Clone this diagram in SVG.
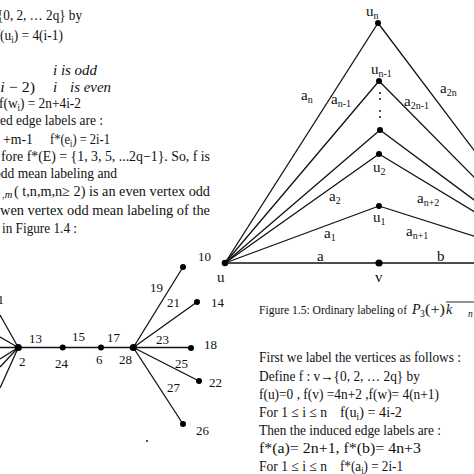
<svg xmlns="http://www.w3.org/2000/svg" width="474" height="474" viewBox="0 0 474 474">
<style>
text{font-family:"Liberation Serif","Times New Roman",serif;fill:#111}
.b{font-size:14.5px}
.r{font-size:14.5px}
.it{font-style:italic}
.g{font-size:13px}
.t{font-size:15px}
.s{font-size:10px}
.ss{font-size:9.5px}
.e{stroke:#111;stroke-width:1.3;fill:none}
.nd{fill:#000}
</style>
<rect width="474" height="474" fill="#fff"/>

<g id="left-text">
<text class="b" x="-3.5" y="20">{</text>
<text class="b" x="3.3" y="20" textLength="78.7" lengthAdjust="spacingAndGlyphs">0, 2, … 2q} by</text>
<text class="b" x="-4.5" y="40" textLength="67.5" lengthAdjust="spacingAndGlyphs">f(u<tspan class="ss" dy="3">i</tspan><tspan dy="-3">) = 4(i-1)</tspan></text>
<text class="it" font-size="15" x="53" y="75" textLength="44" lengthAdjust="spacingAndGlyphs">i is odd</text>
<text font-size="15" x="-5" y="92" textLength="40" lengthAdjust="spacingAndGlyphs">(<tspan class="it">i</tspan> − 2)</text>
<text class="it" font-size="15" x="53" y="92">i</text>
<text class="it" font-size="15" x="70" y="92" textLength="41" lengthAdjust="spacingAndGlyphs">is even</text>
<text class="b" x="-1" y="108" textLength="82" lengthAdjust="spacingAndGlyphs">f(w<tspan class="ss" dy="3">i</tspan><tspan dy="-3">) = 2n+4i-2</tspan></text>
<text class="b" x="0" y="125" textLength="103" lengthAdjust="spacingAndGlyphs">ed edge labels are :</text>
<text class="b" x="3" y="144" textLength="30" lengthAdjust="spacingAndGlyphs">+m-1</text>
<text class="b" x="50" y="144" textLength="60" lengthAdjust="spacingAndGlyphs">f*(e<tspan class="ss" dy="3">i</tspan><tspan dy="-3">) = 2i-1</tspan></text>
<text class="b" x="1" y="161" textLength="209" lengthAdjust="spacingAndGlyphs">fore f*(E) = {1, 3, 5, ...2q−1}. So, f is</text>
<text class="b" x="-6" y="178" textLength="123" lengthAdjust="spacingAndGlyphs">odd mean labeling and</text>
<text class="it" font-size="10.5" x="2" y="198">,m</text>
<text class="b" x="14" y="196" textLength="196" lengthAdjust="spacingAndGlyphs">( t,n,m,n≥ 2) is an even vertex odd</text>
<text class="b" x="0" y="215" textLength="210" lengthAdjust="spacingAndGlyphs">wen vertex odd mean labeling of the</text>
<text class="b" x="2" y="233" textLength="75" lengthAdjust="spacingAndGlyphs">in Figure 1.4 :</text>
</g>

<g id="connectors-left">
<line class="e" x1="0" y1="347.5" x2="191" y2="347.5"/>
<line class="e" x1="0" y1="315" x2="18.3" y2="347.5"/>
<line class="e" x1="0" y1="337" x2="18.3" y2="347.5"/>
<line class="e" x1="0" y1="359" x2="18.3" y2="347.5"/>
<line class="e" x1="0" y1="367" x2="18.3" y2="347.5"/>
<line class="e" x1="0" y1="388" x2="18.3" y2="347.5"/>
<line class="e" x1="133.3" y1="347.5" x2="183" y2="267"/>
<line class="e" x1="133.3" y1="347.5" x2="197" y2="302"/>
<line class="e" x1="133.3" y1="347.5" x2="199" y2="381"/>
<line class="e" x1="133.3" y1="347.5" x2="183" y2="424"/>
</g>

<g id="edge-labels-left" class="g">
<text x="4" y="304" text-anchor="end">11</text>
<text x="29" y="343">13</text>
<text x="72" y="341">15</text>
<text x="107" y="342">17</text>
<text x="150" y="292">19</text>
<text x="167" y="307">21</text>
<text x="156" y="344">23</text>
<text x="175" y="368">25</text>
<text x="167" y="392">27</text>
</g>

<g id="n2"><circle class="nd" cx="18.3" cy="347.5" r="3.6"/><text class="g" x="19" y="366">2</text></g>
<g id="n24"><circle class="nd" cx="62.7" cy="347.5" r="3"/><text class="g" x="55" y="368">24</text></g>
<g id="n6"><circle class="nd" cx="101" cy="347.5" r="3"/><text class="g" x="96" y="364">6</text></g>
<g id="n28"><circle class="nd" cx="133.3" cy="347.5" r="3.6"/><text class="g" x="119" y="364">28</text></g>
<g id="n10"><circle class="nd" cx="183" cy="267" r="3"/><text class="g" x="198" y="261">10</text></g>
<g id="n14"><circle class="nd" cx="197" cy="302" r="3"/><text class="g" x="211" y="307">14</text></g>
<g id="n18"><circle class="nd" cx="191" cy="348" r="3"/><text class="g" x="204" y="349">18</text></g>
<g id="n22"><circle class="nd" cx="199" cy="381" r="3"/><text class="g" x="209" y="387">22</text></g>
<g id="n26"><circle class="nd" cx="183" cy="424" r="3"/><text class="g" x="196" y="435">26</text></g>
<circle class="nd" cx="147" cy="441" r="0.9"/>

<g id="connectors-right">
<line class="e" x1="225" y1="263" x2="474" y2="263"/>
<line class="e" x1="225" y1="263" x2="379" y2="206"/>
<line class="e" x1="225" y1="263" x2="379" y2="154"/>
<line class="e" x1="225" y1="263" x2="380" y2="130"/>
<line class="e" x1="225" y1="263" x2="379" y2="81"/>
<line class="e" x1="225" y1="263" x2="378" y2="23"/>
<line class="e" x1="379" y1="206" x2="559" y2="263"/>
<line class="e" x1="379" y1="154" x2="559" y2="263"/>
<line class="e" x1="380" y1="130" x2="559" y2="263"/>
<line class="e" x1="379" y1="81" x2="559" y2="263"/>
<line class="e" x1="378" y1="23" x2="559" y2="263"/>
</g>
<g id="dots" class="nd">
<circle cx="380" cy="93" r="0.9"/><circle cx="380" cy="99" r="0.9"/>
<circle cx="380" cy="111" r="0.9"/><circle cx="380" cy="117" r="0.9"/>
</g>

<g id="edge-labels-right" class="t">
<text x="301" y="100">a<tspan class="s" dy="3">n</tspan></text>
<text x="331" y="104">a<tspan class="s" dy="3">n-1</tspan></text>
<text x="404" y="106">a<tspan class="s" dy="3">2n-1</tspan></text>
<text x="440" y="93">a<tspan class="s" dy="3">2n</tspan></text>
<text x="329" y="201">a<tspan class="s" dy="3">2</tspan></text>
<text x="324" y="238">a<tspan class="s" dy="3">1</tspan></text>
<text x="417" y="203">a<tspan class="s" dy="3">n+2</tspan></text>
<text x="406" y="236">a<tspan class="s" dy="3">n+1</tspan></text>
<text x="317" y="261">a</text>
<text x="437" y="261">b</text>
</g>

<g id="u"><circle class="nd" cx="225" cy="263" r="3.3"/><text class="t" x="217" y="282">u</text></g>
<g id="v"><circle class="nd" cx="379" cy="263" r="3.6"/><text class="t" x="375" y="282">v</text></g>
<g id="u1"><circle class="nd" cx="379" cy="206" r="3"/><text class="t" x="373" y="222">u<tspan class="s" dy="3">1</tspan></text></g>
<g id="u2"><circle class="nd" cx="379" cy="154" r="3"/><text class="t" x="373" y="172">u<tspan class="s" dy="3">2</tspan></text></g>
<g id="u3"><circle class="nd" cx="380" cy="130" r="3"/></g>
<g id="un1"><circle class="nd" cx="379" cy="81" r="3"/><text class="t" x="371" y="74">u<tspan class="s" dy="3">n-1</tspan></text></g>
<g id="un"><circle class="nd" cx="378" cy="23" r="3"/><text class="t" x="366" y="16">u<tspan class="s" dy="3">n</tspan></text></g>

<g id="right-text">
<text font-size="13.5" x="259" y="314" textLength="148" lengthAdjust="spacingAndGlyphs">Figure 1.5: Ordinary labeling of</text>
<text font-size="14" class="it" x="412" y="314">P</text>
<text font-size="9.5" x="420" y="317">3</text>
<text font-size="14" x="425" y="314" textLength="20" lengthAdjust="spacingAndGlyphs">(+)</text>
<text font-size="14" class="it" x="446" y="314">k</text>
<line x1="446" y1="302" x2="474" y2="302" stroke="#111" stroke-width="0.9"/>
<text font-size="9.5" class="it" x="468" y="317">n</text>
<text class="r" x="259" y="362" textLength="202" lengthAdjust="spacingAndGlyphs">First we label the vertices as follows :</text>
<text class="r" x="259" y="381" textLength="161" lengthAdjust="spacingAndGlyphs">Define f : v→{0, 2, … 2q} by</text>
<text class="r" x="259" y="399" textLength="180" lengthAdjust="spacingAndGlyphs">f(u)=0 , f(v) =4n+2 ,f(w)= 4(n+1)</text>
<text class="r" x="259" y="417" textLength="68" lengthAdjust="spacingAndGlyphs">For 1 ≤ i ≤ n</text>
<text class="r" x="340" y="417" textLength="62" lengthAdjust="spacingAndGlyphs">f(u<tspan class="ss" dy="3">i</tspan><tspan dy="-3">)  = 4i-2</tspan></text>
<text class="r" x="259" y="435" textLength="182" lengthAdjust="spacingAndGlyphs">Then the induced edge labels are :</text>
<text class="r" x="259" y="453" textLength="162" lengthAdjust="spacingAndGlyphs">f*(a)= 2n+1, f*(b)= 4n+3</text>
<text class="r" x="259" y="471" textLength="68" lengthAdjust="spacingAndGlyphs">For 1 ≤ i ≤ n</text>
<text class="r" x="340" y="471" textLength="63" lengthAdjust="spacingAndGlyphs">f*(a<tspan class="ss" dy="3">i</tspan><tspan dy="-3">) = 2i-1</tspan></text>
</g>
</svg>
